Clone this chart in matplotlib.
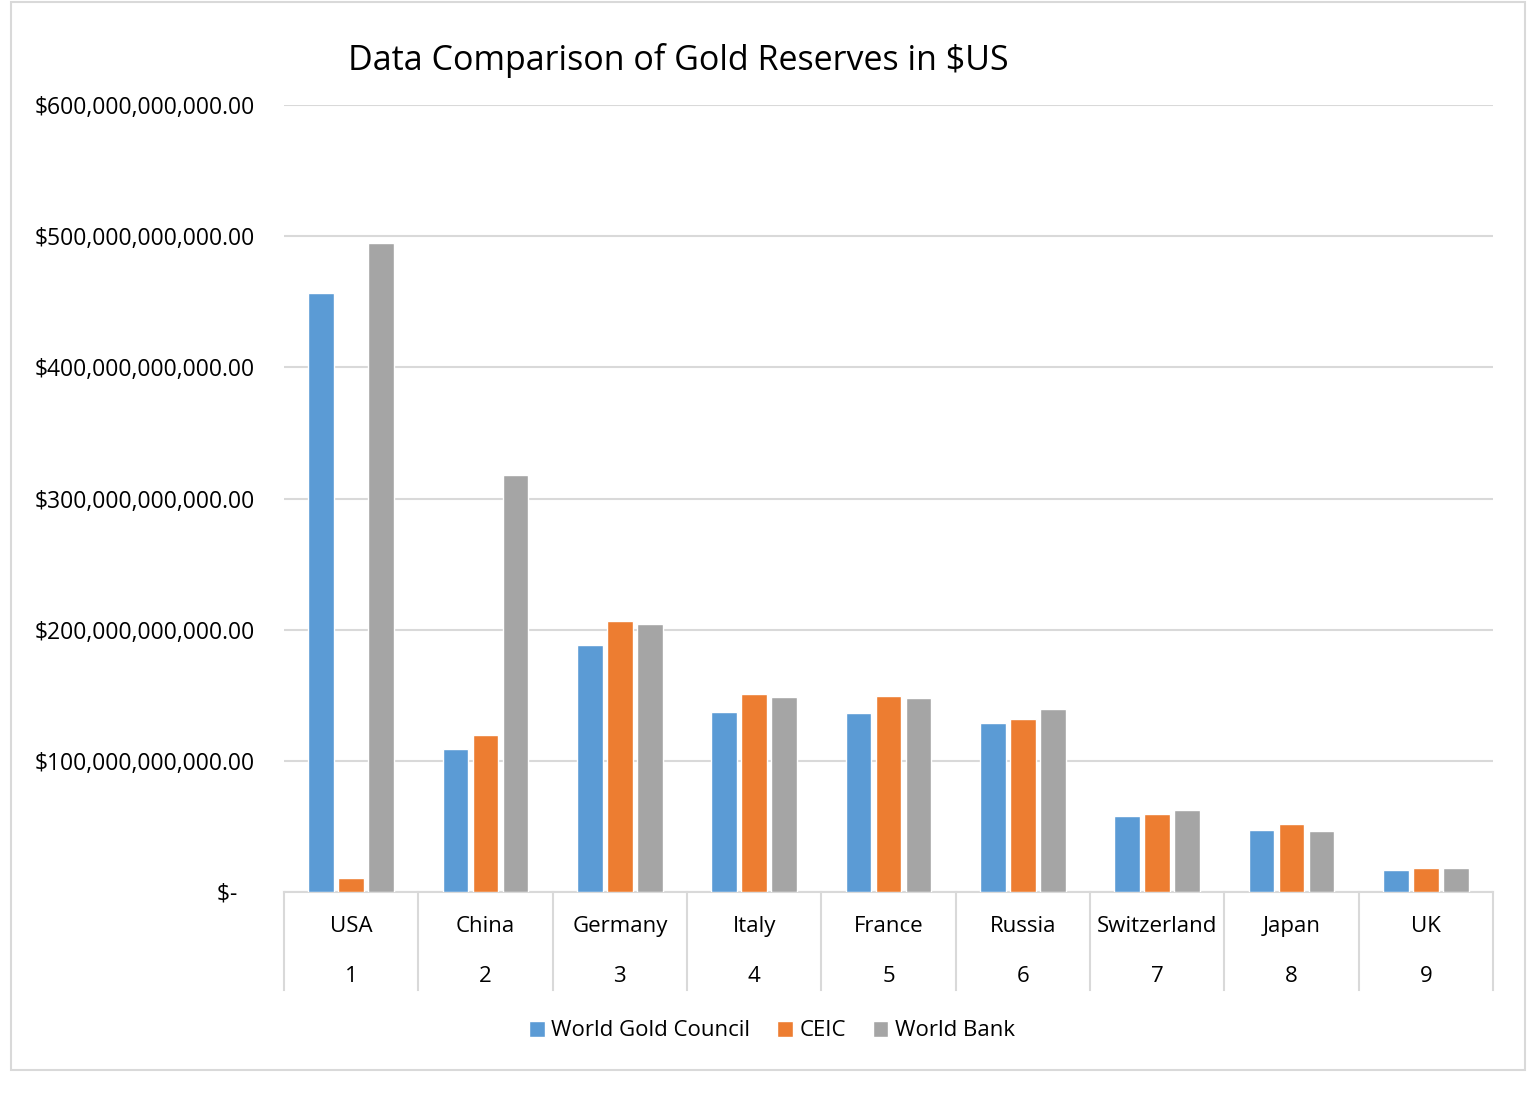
import matplotlib
matplotlib.use("Agg")
from matplotlib import pyplot as plt
from matplotlib.patches import Rectangle
import numpy as np

plt.rcParams['font.family'] = ['Open Sans', 'DejaVu Sans']

# Data
countries = ['USA', 'China', 'Germany', 'Italy', 'France', 'Russia', 'Switzerland', 'Japan', 'UK']
ranks = ['1', '2', '3', '4', '5', '6', '7', '8', '9']
wgc = [456.7, 109.0, 188.3, 137.2, 136.5, 128.8, 57.9, 47.3, 16.8]   # billions
ceic = [10.7, 119.7, 206.6, 151.0, 149.4, 131.9, 59.5, 51.8, 18.3]
world_bank = [494.8, 317.9, 204.3, 148.7, 147.9, 139.5, 62.5, 46.5, 18.3]
series_names = ['World Gold Council', 'CEIC', 'World Bank']
colors = ['#5B9BD5', '#ED7D31', '#A5A5A5']
y_ticks = [0, 100, 200, 300, 400, 500, 600]

fig = plt.figure(figsize=(15.36, 10.94), dpi=100)
ax = fig.add_axes([284/1536, 1 - 892/1094, (1493-284)/1536, (892-105)/1094])

x = np.arange(len(countries))
step = 0.223
for i, (vals, name, c) in enumerate(zip([wgc, ceic, world_bank], series_names, colors)):
    ax.bar(x + (i - 1) * step, np.array(vals) * 1e9, width=0.19, color=c,
           edgecolor='white', linewidth=1, label=name, zorder=3)

ax.set_xlim(-0.5, len(countries) - 0.5)
ax.set_ylim(0, 600e9)
ax.set_yticks([v * 1e9 for v in y_ticks])
ax.set_yticklabels(['$-   '] + ['${:,.2f}'.format(v * 1e9) for v in y_ticks[1:]],
                   fontsize=16.5, color='#000000')
ax.tick_params(axis='y', length=0, pad=21)
ax.set_xticks([])
ax.grid(axis='y', color='#D9D9D9', linewidth=1.5, zorder=0)
for s in ['top', 'right', 'left']:
    ax.spines[s].set_visible(False)
ax.spines['bottom'].set_color('#D9D9D9')
ax.spines['bottom'].set_linewidth(1.5)

# Two-level category axis
for b in np.arange(-0.5, len(countries), 1.0):
    ax.plot([b, b], [0, -0.125], transform=ax.get_xaxis_transform(),
            color='#D9D9D9', linewidth=1.5, clip_on=False)
for xi, name, r in zip(x, countries, ranks):
    ax.text(xi, -0.044, name, transform=ax.get_xaxis_transform(),
            ha='center', va='center', fontsize=16)
    ax.text(xi, -0.108, r, transform=ax.get_xaxis_transform(),
            ha='center', va='center', fontsize=16)

fig.text(678/1536, 1 - 60/1094, 'Data Comparison of Gold Reserves in $US',
         ha='center', va='center', fontsize=24.5)

fig.legend(loc='center', bbox_to_anchor=(772/1536, 1 - 1031/1094), ncol=3,
           frameon=False, fontsize=16, handlelength=0.7, handleheight=0.7,
           handletextpad=0.3, columnspacing=1.2)

fig.patches.append(Rectangle((11/1536, 1 - 1070/1094), (1525-11)/1536, (1070-2)/1094,
                             transform=fig.transFigure, fill=False,
                             edgecolor='#D9D9D9', linewidth=1.5))

plt.savefig('out.png', dpi=100)
